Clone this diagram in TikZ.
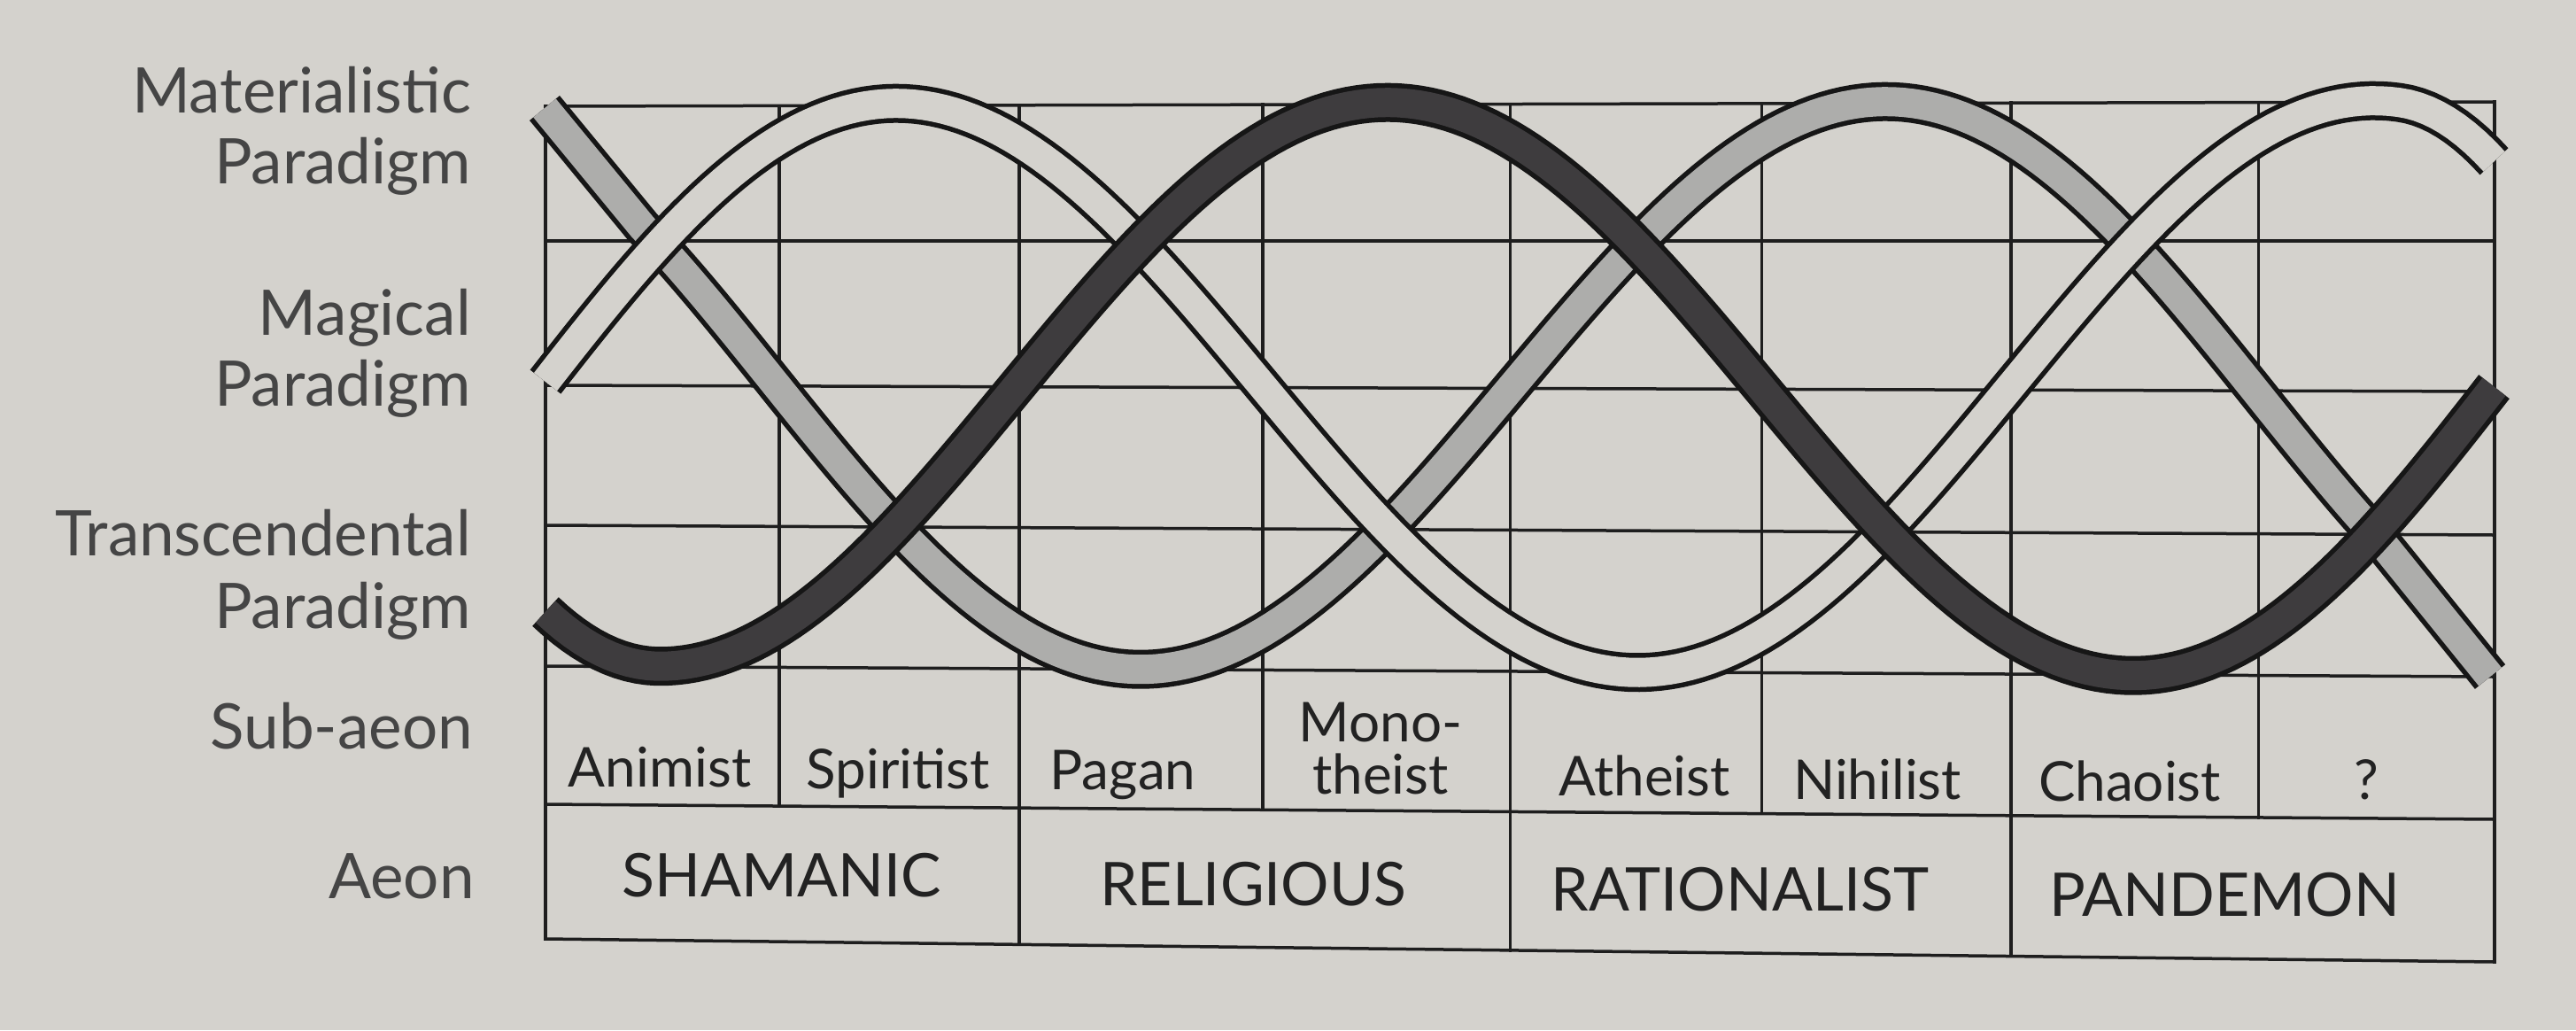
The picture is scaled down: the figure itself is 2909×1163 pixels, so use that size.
\documentclass[tikz,border=0pt]{standalone}
\usepackage{fontspec}
\setmainfont{Lato}
\usetikzlibrary{calc}
\definecolor{paper}{HTML}{D4D2CD}
\definecolor{gridc}{HTML}{1E1E1E}
\definecolor{tubeedge}{HTML}{161616}
\definecolor{darkfill}{HTML}{3E3C3E}
\definecolor{greyfill}{HTML}{ADADAB}
\definecolor{labgray}{HTML}{454545}
\definecolor{ink}{HTML}{222222}
\newcommand{\wx}[1]{616+275.125*(#1)-0.4167*(#1)*((#1)-8)*((#1)-5)}
\newcommand{\wy}[2]{117.4-0.5*(#1)+(158.5+0.5625*(#1))*(2-2*cos(60*((#1)-(#2))))}
\begin{document}
\begin{tikzpicture}[x=1pt,y=-1pt,line join=round,
  gridline/.style={draw=gridc,line width=3.5pt,line cap=rect},
  tube/.style={draw=tubeedge,line width=5.5pt,double distance=33pt,line cap=butt},
  lab/.style={anchor=base east,inner sep=0pt,text=labgray,font=\fontsize{71}{80}\selectfont},
  sublab/.style={anchor=base,inner sep=0pt,text=ink,font=\fontsize{62}{59}\selectfont},
  aeonlab/.style={anchor=base,inner sep=0pt,text=ink,font=\fontsize{68}{66}\selectfont}]
\useasboundingbox (0,0) rectangle (2909,1163);
\fill[paper] (0,0) rectangle (2909,1163);
% row lines (left / right ends)
\coordinate (L0) at (616,120);  \coordinate (R0) at (2817,115);
\coordinate (L1) at (616,272);  \coordinate (R1) at (2817,272);
\coordinate (L2) at (616,435);  \coordinate (R2) at (2817,442);
\coordinate (L3) at (616,593);  \coordinate (R3) at (2817,604);
\coordinate (L4) at (616,752);  \coordinate (R4) at (2817,764);
\coordinate (L5) at (616,908);  \coordinate (R5) at (2817,925);
\coordinate (L6) at (616,1060); \coordinate (R6) at (2817,1086);
\foreach \v in {0,...,6} \draw[gridline] (L\v) -- (R\v);
\foreach \f/\e in {0/6,0.120/5,0.243/6,0.368/5,0.495/6,0.624/5,0.752/6,0.879/5,1/6}
  \draw[gridline] ($(L0)!\f!(R0)$) -- ($(L\e)!\f!(R\e)$);
% grey wave (bottom)
\draw[tube,double=greyfill] (615,122) -- plot[domain=0.42:7.5,samples=180,variable=\u] ({\wx{\u}},{\wy{\u}{5.49}}) -- (2812,764);
% white wave (middle)
\draw[tube,double=paper] plot[domain=0:8,samples=200,variable=\u] ({\wx{\u}},{\wy{\u}{1.49}+150*max(0,\u-7.6)^2});
% dark wave (top)
\draw[tube,double=darkfill] plot[domain=0:8,samples=200,variable=\u] ({\wx{\u}},{\wy{\u}{3.49}-80*max(0,0.5-\u)^2});
% left labels
\node[lab] (mat1) at (532,127) {Materialistic};
\node[lab] (mat2) at (532,207) {Paradigm};
\node[lab] (mag1) at (532,378) {Magical};
\node[lab] (mag2) at (532,458) {Paradigm};
\node[lab] (tr1) at (532,627) {Transcendental};
\node[lab] (tr2) at (532,709) {Paradigm};
\node[lab] (sub) at (534,845) {Sub-aeon};
\node[lab] (aeon) at (536,1014) {Aeon};
% sub-aeons
\node[sublab] (s1) at (745,888) {Animist};
\node[sublab] (s2) at (1014,890) {Spiritist};
\node[sublab] (s3) at (1268,891) {Pagan};
\node[sublab,align=center] (s4) at (1559,896) {Mono-\\theist};
\node[sublab] (s5) at (1857,898) {Atheist};
\node[sublab] (s6) at (2120,902) {Nihilist};
\node[sublab] (s7) at (2405,904) {Chaoist};
\node[sublab] (s8) at (2672,902) {?};
% aeons
\node[aeonlab] (a1) at (883,1012) {SHAMANIC};
\node[aeonlab] (a2) at (1415,1022) {RELIGIOUS};
\node[aeonlab] (a3) at (1965,1028) {RATIONALIST};
\node[aeonlab] (a4) at (2512,1034) {PANDEMON};
\end{tikzpicture}
\end{document}
